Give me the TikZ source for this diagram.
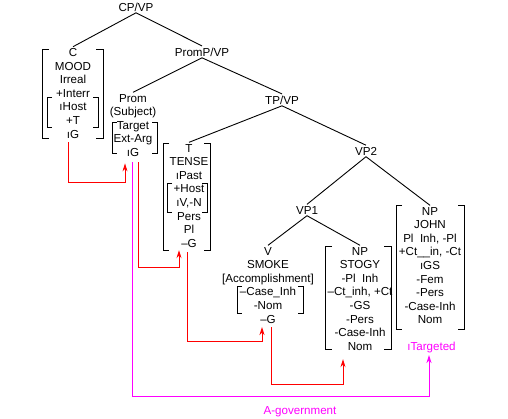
\documentclass[tikz,border=0pt]{standalone}
\usepackage{fontspec}
\setmainfont{Liberation Sans}
\usetikzlibrary{arrows.meta}
\definecolor{mag}{RGB}{255,0,255}
\definecolor{rd}{RGB}{255,0,0}
\tikzset{
  lbl/.style={font=\fontsize{11.6}{13}\selectfont, inner sep=1.5pt, anchor=base},
  tree/.style={line width=0.9pt},
  brk/.style={line width=0.9pt},
  redarr/.style={rd, line width=0.9pt, -{Stealth[length=8pt,width=5pt,inset=2.5pt]}},
  magarr/.style={mag, line width=0.9pt, -{Stealth[length=8pt,width=5pt,inset=2.5pt]}},
}
\newcommand\stacklines[4]{\foreach \t [count=\i] in {#4}{\node[lbl] (#1-\i) at (#2,{#3+13.6*(\i-1)}) {\t};}}
\newcommand\brkpair[5]{%
  \draw[brk] (#1+#5,#2) -- (#1,#2) -- (#1,#4) -- (#1+#5,#4);
  \draw[brk] (#3-#5,#2) -- (#3,#2) -- (#3,#4) -- (#3-#5,#4);}
\begin{document}
\begin{tikzpicture}[x=1pt,y=-1pt]
\useasboundingbox[fill=white] (0,0) rectangle (508,418);
% phrase labels
\node[lbl] (CPVP) at (136,11) {CP/VP};
\node[lbl] (PromP) at (202,56) {PromP/VP};
\node[lbl] (TPVP) at (282,104) {TP/VP};
\node[lbl] (VP2) at (366,155) {VP2};
\node[lbl] (VP1) at (307,214) {VP1};
% feature stacks
\stacklines{C}{73}{56.5}{C,MOOD,Irreal,+Interr,ıHost,+T,ıG}
\stacklines{P}{133}{102}{Prom,(Subject),Target,Ext-Arg,ıG}
\stacklines{T}{189}{152}{T,TENSE,ıPast,+Host,{ıV,-N},Pers,Pl,–G}
\stacklines{V}{268}{255}{V,SMOKE,{[Accomplishment]},–Case\_Inh,-Nom,–G}
\stacklines{S}{360}{255}{NP,STOGY,-Pl\ \ Inh,{–Ct\_inh, +Ct},-GS,-Pers,-Case-Inh,Nom}
\stacklines{J}{430}{215}{NP,JOHN,{Pl\ \ Inh, -Pl},{+Ct\_\_in, -Ct},ıGS,-Fem,-Pers,-Case-Inh,Nom}
\node[lbl, text=mag] (tgt) at (431.5,350) {ıTargeted};
\node[lbl, text=mag] (agov) at (300,414) {A-government};
% brackets
\brkpair{42}{49}{103}{138}{7}
\brkpair{47}{97}{98}{127}{5}
\brkpair{112}{122}{157}{153}{5}
\brkpair{163}{143}{210}{250}{6}
\brkpair{167}{183}{207}{212}{5}
\brkpair{237}{286}{303}{313}{5}
\brkpair{325}{246}{391}{349}{7}
\brkpair{396}{205}{464}{329}{6}
% tree edges
\draw[tree] (CPVP.south) -- (C-1.north);
\draw[tree] (CPVP.south) -- (PromP.north);
\draw[tree] (PromP.south) -- (P-1.north);
\draw[tree] (PromP.south) -- (TPVP.north);
\draw[tree] (TPVP.south) -- (T-1.north);
\draw[tree] (TPVP.south) -- (VP2.north);
\draw[tree] (VP2.south) -- (VP1.north);
\draw[tree] (VP2.south) -- (J-1.north);
\draw[tree] (VP1.south) -- (V-1.north);
\draw[tree] (VP1.south) -- (S-1.north);
% government arrows
\draw[redarr] ([shift={(-4.5,4)}]C-7.base) -- ++(0,40) -| ([shift={(-8,7)}]P-5.base);
\draw[magarr] ([shift={(-1,6)}]P-5.base) -- ++(0,234) -| ([shift={(-2.5,5)}]tgt.base);
\draw[redarr] ([shift={(5.5,6)}]P-5.base) -- ++(0,105) -| ([shift={(-10,3)}]T-8.base);
\draw[redarr] ([shift={(-2,5)}]T-8.base) -- ++(0,89) -| ([shift={(-6,4)}]V-6.base);
\draw[redarr] ([shift={(3,4)}]V-6.base) -- ++(0,57) -| ([shift={(-17,9)}]S-8.base);
\end{tikzpicture}
\end{document}
